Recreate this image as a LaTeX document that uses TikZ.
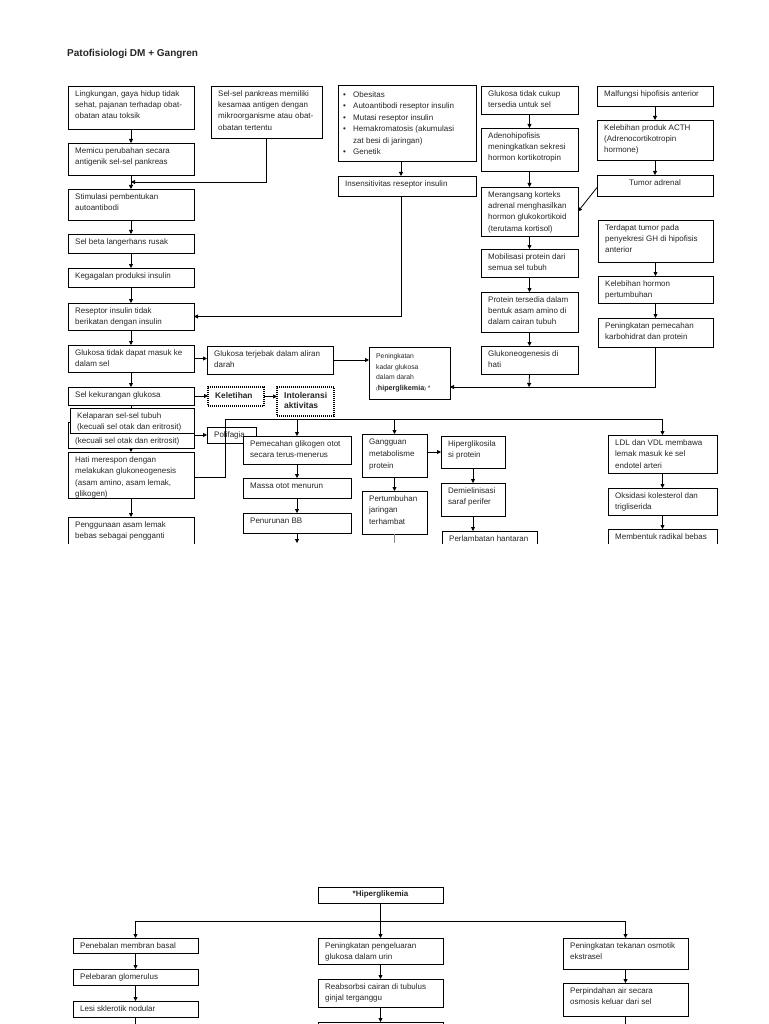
\documentclass[tikz,border=0pt]{standalone}
\usepackage{fontspec}
\setmainfont{Liberation Sans}
\usetikzlibrary{arrows.meta,calc}
\tikzset{
 boxst/.style={draw=black, line width=0.9pt, fill=white, inner sep=0pt, outer sep=0pt},
 dbox/.style={draw=black, line width=1.1pt, dash pattern=on 1pt off 1pt, fill=white, inner sep=0pt, outer sep=0pt},
 txtst/.style={inner sep=0pt, align=left, font=\fontsize{8}{11.2}\selectfont, text=black!85},
 con/.style={line width=0.8pt, draw=black},
 arr/.style={con, -{Triangle[length=4pt,width=4pt]}},
}
\newcommand\mybox[7][boxst]{%
 \node[#1, anchor=north west, minimum width={(#5-#3)*1pt}, minimum height={(#6-#4)*1pt}] (#2) at (#3,#4) {};
 \node[txtst, anchor=north west] (#2t) at (#3+7,#4+4.6) {#7};}
\newcommand\mycbox[7][boxst]{%
 \node[#1, anchor=north west, minimum width={(#5-#3)*1pt}, minimum height={(#6-#4)*1pt}] (#2) at (#3,#4) {};
 \node[txtst, align=center, anchor=north] (#2t) at ({(#3+#5)/2},#4+4.6) {#7};}
\newcommand\bul{\makebox[10pt][l]{\textbullet}}
\begin{document}
\begin{tikzpicture}[x=1pt,y=-1pt]
\fill[white] (0,0) rectangle (768,1024);
\useasboundingbox (0,0) rectangle (768,1024);
\node[anchor=base west, inner sep=0pt, font=\bfseries\fontsize{10}{12}\selectfont, text=black!85] (title) at (67,57) {Patofisiologi DM + Gangren};
\begin{scope}
\clip (0,0) rectangle (768,543);
\mybox{L1}{68}{86}{194}{129}{Lingkungan, gaya hidup tidak\\sehat, pajanan terhadap obat-\\obatan atau toksik}
\mybox{S1}{211}{86}{322}{138}{Sel-sel pankreas memiliki\\kesamaa antigen dengan\\mikroorganisme atau obat-\\obatan tertentu}
\mybox{B}{338}{85}{476}{161}{}
\node[txtst, font=\fontsize{8}{11.4}\selectfont, anchor=north west] (Bt) at (343,91.6) {\bul Obesitas\\\bul Autoantibodi reseptor insulin\\\bul Mutasi reseptor insulin\\\bul Hemakromatosis (akumulasi\\\hspace*{10pt}zat besi di jaringan)\\\bul Genetik};
\mybox{GT}{481}{86}{578}{114}{Glukosa tidak cukup\\tersedia untuk sel}
\mybox{MH}{597}{86}{713}{106}{Malfungsi hipofisis anterior}
\mybox{L2}{68}{143}{194}{175}{Memicu perubahan secara\\antigenik sel-sel pankreas}
\mybox{AH}{481}{128}{578}{171}{Adenohipofisis\\meningkatkan sekresi\\hormon kortikotropin}
\mybox{KA}{597}{120}{713}{160}{Kelebihan produk ACTH\\(Adrenocortikotropin\\hormone)}
\mybox{Ins}{338}{176}{476}{196}{Insensitivitas reseptor insulin}
\mycbox{TA}{597}{175}{713}{196}{Tumor adrenal}
\mybox{L3}{68}{189}{194}{220}{Stimulasi pembentukan\\autoantibodi}
\mybox{MK}{481}{187}{578}{236}{Merangsang korteks\\adrenal menghasilkan\\hormon glukokortikoid\\(terutama kortisol)}
\mybox{TG}{598}{220}{713}{262}{Terdapat tumor pada\\penyekresi GH di hipofisis\\anterior}
\mybox{L4}{68}{234}{194}{253}{Sel beta langerhans rusak}
\mybox{MP}{481}{249}{578}{277}{Mobilisasi protein dari\\semua sel tubuh}
\mybox{KH}{598}{276}{713}{303}{Kelebihan hormon\\pertumbuhan}
\mybox{L5}{68}{268}{194}{287}{Kegagalan produksi insulin}
\mybox{PT}{481}{292}{578}{332}{Protein tersedia dalam\\bentuk asam amino di\\dalam cairan tubuh}
\mybox{L6}{68}{303}{194}{330}{Reseptor insulin tidak\\berikatan dengan insulin}
\mybox{PP}{598}{318}{713}{347}{Peningkatan pemecahan\\karbohidrat dan protein}
\mybox{L7}{68}{345}{194}{372}{Glukosa tidak dapat masuk ke\\dalam sel}
\mybox{M7}{207}{346}{333}{374}{Glukosa terjebak dalam aliran\\darah}
\mybox{H}{369}{347}{450}{399}{}
\node[txtst, font=\fontsize{6.8}{10.5}\selectfont, anchor=north west] (Ht) at (376,353.5) {Peningkatan\\kadar glukosa\\dalam darah\\{\fontsize{5}{5}\selectfont(}{\bfseries\fontsize{7.2}{10.5}\selectfont hiperglikemia}{\fontsize{5}{5}\selectfont)} *};
\mybox{GN}{481}{346}{578}{374}{Glukoneogenesis di\\hati}
\mybox{L8}{68}{387}{194}{405}{Sel kekurangan glukosa}
\node[dbox, anchor=north west, minimum width=56pt, minimum height=19pt] (Kel) at (208,387) {};
\node[txtst, font=\bfseries\fontsize{8.3}{10.5}\selectfont, anchor=north west] (Kelt) at (215,392) {Keletihan};
\node[dbox, anchor=north west, minimum width=57pt, minimum height=29pt] (Int) at (277,387) {};
\node[txtst, font=\bfseries\fontsize{8.5}{10.5}\selectfont, anchor=north west] (Intt) at (284,391.8) {Intoleransi\\aktivitas};
\mybox{K0}{68}{422}{194}{448}{Kelaparan sel-sel tubuh\\(kecuali sel otak dan eritrosit)}
\mybox{Poli}{207}{427}{256}{443}{Polifagia}
\mybox{L9}{68}{452}{194}{498}{Hati merespon dengan\\melakukan glukoneogenesis\\(asam amino, asam lemak,\\glikogen)}
\mybox{L10}{68}{517}{194}{570}{Penggunaan asam lemak\\bebas sebagai pengganti}
\mybox{P2}{243}{478}{351}{498}{Massa otot menurun}
\mybox{P3}{243}{513}{351}{533}{Penurunan BB}
\mybox{G1}{362}{434}{427}{477}{}
\node[txtst, font=\fontsize{8}{12}\selectfont, anchor=north west] (G1t) at (369,438.6) {Gangguan\\metabolisme\\protein};
\mybox{G2}{362}{491}{427}{534}{Pertumbuhan\\jaringan\\terhambat}
\mybox{HG1}{441}{436}{505}{468}{Hiperglikosila\\si protein}
\mybox{HG2}{441}{483}{505}{516}{Demielinisasi\\saraf perifer}
\mybox{HG3}{442}{531}{537}{570}{Perlambatan hantaran}
\mybox{LDL1}{608}{435}{717}{473}{LDL dan VDL membawa\\lemak masuk ke sel\\endotel arteri}
\mybox{LDL2}{608}{488}{717}{515}{Oksidasi kolesterol dan\\trigliserida}
\mybox{LDL3}{608}{529}{717}{570}{Membentuk radikal bebas}
% connectors
\coordinate (jS) at (131,182);
\coordinate (jB) at (225,419);
\coordinate (cutP) at (297,543);
\coordinate (jG) at (529,387);
\draw[arr] (L1.south) -- (L2.north);
\draw[arr] (L2.south) -- (L3.north);
\draw[arr] (S1.south) |- (jS);
\draw[arr] (L3.south) -- (L4.north);
\draw[arr] (L4.south) -- (L5.north);
\draw[arr] (L5.south) -- (L6.north);
\draw[arr] ([xshift=-6pt]B.south) -- ([xshift=-6pt]Ins.north);
\draw[arr] ([xshift=-6pt]Ins.south) |- (L6.east);
\draw[arr] (L6.south) -- (L7.north);
\draw[arr] (L7.east) -- (L7.east -| M7.west);
\draw[arr] (M7.east) -- (M7.east -| H.west);
\draw[arr] (L7.south) -- (L8.north);
\draw[arr] (L8.east) -- (L8.east -| Kel.west);
\draw[arr] (Kel.east) -- (Kel.east -| Int.west);
\draw[arr] (L8.south) -- (K0.north);
\draw[arr] (K0.south) -- (L9.north);
\draw[arr] (K0.east) -- (K0.east -| Poli.west);
\draw[arr] (L9.south) -- (L10.north);
\draw[arr] ([yshift=-2pt]L9.east) -| (jB) -| (LDL1.north);
\mybox{K1}{70}{408}{194}{433}{Kelaparan sel-sel tubuh\\(kecuali sel otak dan eritrosit)}
\mybox{P1}{243}{436}{351}{464}{Pemecahan glikogen otot\\secara terus-menerus}
\draw[arr] (P1.north |- jB) -- (P1.north);
\draw[arr] (P1.south) -- (P2.north);
\draw[arr] (P2.south) -- (P3.north);
\draw[arr] (P3.south) -- (cutP);
\draw[arr] (G1.north |- jB) -- (G1.north);
\draw[arr] (G1.south) -- (G2.north);
\draw[con, draw=black!45] (G2.south) -- (G2.south |- cutP);
\draw[arr] (G1.east |- HG1.west) -- (HG1.west);
\draw[arr] (HG1.south) -- (HG2.north);
\draw[arr] (HG2.south) -- (HG2.south |- HG3.north);
\draw[arr] (LDL1.south) -- (LDL2.north);
\draw[arr] (LDL2.south) -- (LDL3.north);
\draw[arr] (GT.south) -- (AH.north);
\draw[arr] (AH.south) -- (MK.north);
\draw[arr] (MK.south) -- (MP.north);
\draw[arr] (MP.south) -- (PT.north);
\draw[arr] (PT.south) -- (GN.north);
\draw[arr] (GN.south) -- (jG);
\draw[arr] (PP.south) |- (H.east |- jG);
\draw[arr] (MH.south) -- (KA.north);
\draw[arr] (KA.south) -- (TA.north);
\draw[arr] (TG.south) -- (KH.north);
\draw[arr] (KH.south) -- (PP.north);
\draw[arr] ([yshift=-2pt]TA.west) -- (MK.east);
\end{scope}
\begin{scope}
\clip (0,870) rectangle (768,1024);
\node[boxst, anchor=north west, minimum width=125pt, minimum height=16pt] (HB) at (318,887) {};
\node[txtst, font=\bfseries\fontsize{8}{10}\selectfont, anchor=north] (HBt) at (380.5,890.5) {*Hiperglikemia};
\mybox{BL1}{73}{938}{198}{953}{Penebalan membran basal}
\mybox{BL2}{73}{969}{198}{985}{Pelebaran glomerulus}
\mybox{BL3}{73}{1001}{198}{1017}{Lesi sklerotik nodular}
\mybox{BM1}{318}{938}{443}{964}{Peningkatan pengeluaran\\glukosa dalam urin}
\mybox{BM2}{318}{979}{443}{1007}{Reabsorbsi cairan di tubulus\\ginjal terganggu}
\mybox{BM3}{318}{1022}{443}{1050}{}
\mybox{BR1}{563}{938}{688}{969}{Peningkatan tekanan osmotik\\ekstrasel}
\mybox{BR2}{563}{983}{688}{1016}{Perpindahan air secara\\osmosis keluar dari sel}
\coordinate (jH) at (380,921);
\draw[con] (BL1.north |- jH) -- (BR1.north |- jH);
\draw[arr] (HB.south) -- (BM1.north);
\draw[arr] (BL1.north |- jH) -- (BL1.north);
\draw[arr] (BR1.north |- jH) -- (BR1.north);
\draw[arr] (BL1.south) -- (BL2.north);
\draw[arr] (BL2.south) -- (BL3.north);
\draw[con] (BL3.south) -- ++(0,12);
\draw[arr] (BM1.south) -- (BM2.north);
\draw[arr] (BM2.south) -- (BM3.north);
\draw[arr] (BR1.south) -- (BR2.north);
\draw[con] (BR2.south) -- ++(0,12);
\end{scope}
\end{tikzpicture}
\end{document}
